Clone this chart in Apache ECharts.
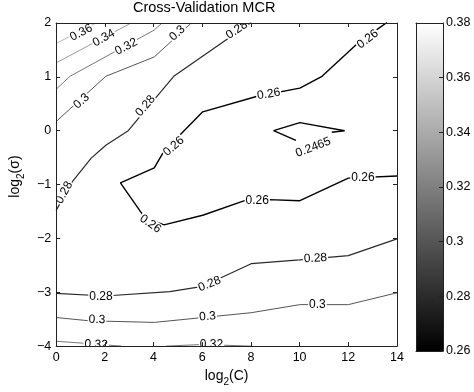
<!DOCTYPE html>
<html>
<head>
<meta charset="utf-8">
<script src="https://cdn.jsdelivr.net/npm/echarts@6/dist/echarts.min.js"></script>
<style>
html, body { margin: 0; padding: 0; background: #fff; }
#chart { width: 474px; height: 392px; }
</style>
</head>
<body>
<div id="chart"></div>
<script>
// contour lines, points are [log2(C), log2(sigma)]
var c036 = [[0, 1.62], [1.64, 2]];
var c034 = [[0, 1.26], [3.08, 2]];
var c032a = [[0, 0.77], [0.57, 1.01], [4.03, 1.87], [4.35, 2]];
var c030a = [[0, 0.17], [2.04, 1.01], [4.03, 1.37], [5.55, 2]];
var c028a = [[0, -1.48], [0.69, -0.93], [1.44, -0.51], [2.04, -0.27], [2.96, 0], [4.83, 1.01], [8.01, 2.01]];
var c026 = [[14, -0.84], [12, -0.88], [10.01, -1.3], [8.73, -1.28], [7.74, -1.3], [6.02, -1.57], [4.43, -1.75],
    [3.63, -1.61], [2.64, -0.97], [4.03, -0.69], [4.43, -0.38], [6.02, 0.35], [8.26, 0.64], [10.01, 0.79],
    [10.92, 1.01], [12.4, 1.63], [13.59, 2.01]];
var c02465a = [[11.32, -0.03], [11.85, 0], [10.01, 0.15], [8.93, 0], [9.85, -0.18]];
var c028b = [[0, -3.02], [2, -3.07], [4.67, -2.99], [6.02, -2.89], [8.01, -2.47], [10, -2.4], [12, -2.32], [14, -2.01]];
var c030b = [[0, -3.47], [1.36, -3.53], [4.03, -3.56], [6.02, -3.47], [8.01, -3.38], [10.01, -3.23], [12, -3.23], [14, -3.01]];
var c032b = [[0, -3.91], [1.24, -3.95], [2.68, -4]];
var c032c = [[4.5, -4], [6, -3.97], [8, -4]];

// inline contour labels [x, y, text] and their angles (degrees)
var labels = [
    [1.03, 1.82, '0.36'], [1.96, 1.72, '0.34'], [2.88, 1.56, '0.32'],
    [1.04, 0.55, '0.3'], [4.98, 1.81, '0.3'],
    [3.67, 0.46, '0.28'], [7.42, 1.87, '0.28'], [0.33, -1.15, '0.28'],
    [4.83, -0.29, '0.26'], [8.73, 0.68, '0.26'], [12.8, 1.7, '0.26'],
    [3.87, -1.73, '0.26'], [8.26, -1.3, '0.26'], [12.6, -0.88, '0.26'],
    [10.56, -0.31, '0.2465'],
    [1.84, -3.09, '0.28'], [6.3, -2.85, '0.28'], [10.65, -2.37, '0.28'],
    [1.68, -3.51, '0.3'], [6.22, -3.45, '0.3'], [10.73, -3.24, '0.3'],
    [1.64, -3.97, '0.32'], [6.38, -3.97, '0.32']
];
var labelAngles = [27, 29, 27, 42, 43, 49, 34, 61, 42, 10, 38, -35, 0, 0, 21, 0, 22, 3, -2, 5, 0, -3, 0];

var xRange = [0, 14];
var yRange = [-4, 2];
// colorbar ticks, in hundredths so the steps stay exact
var cbarTicks = [26, 28, 30, 32, 34, 36, 38];

var font = "'Liberation Sans', Arial, Helvetica, sans-serif";

var myChart = echarts.init(document.getElementById('chart'));

function contour(data, color, width) {
    return {
        type: 'line',
        xAxisIndex: 0,
        yAxisIndex: 0,
        data: data,
        showSymbol: false,
        symbol: 'none',
        clip: true,
        silent: true,
        z: 2,
        lineStyle: { color: color, width: width }
    };
}

function frameAxis(pos, gridIndex, showLabel, extra) {
    var a = {
        gridIndex: gridIndex,
        type: 'value',
        position: pos,
        z: 10,
        axisLine: { show: true, onZero: false, lineStyle: { color: '#222', width: 1 } },
        axisTick: { show: true, inside: true, length: 4, lineStyle: { color: '#222' } },
        axisLabel: { show: showLabel, color: '#000', fontSize: 12.5, fontFamily: font, margin: 5 },
        splitLine: { show: false }
    };
    for (var k in extra) a[k] = extra[k];
    return a;
}

var sub = {
    a: { fontSize: 14, fontFamily: font, color: '#000', lineHeight: 22 },
    s: { fontSize: 10, fontFamily: font, color: '#000', lineHeight: 10, verticalAlign: 'bottom' }
};

var cbarMin = cbarTicks[0];
var cbarMax = cbarTicks[cbarTicks.length - 1];

var option = {
    animation: false,
    backgroundColor: '#fff',
    title: {
        text: 'Cross-Validation MCR',
        left: 133,
        top: 0,
        padding: 0,
        textStyle: { fontSize: 14.5, fontWeight: 'normal', color: '#000', fontFamily: font }
    },
    grid: [
        { left: 46, top: 23, width: 351, height: 328 },
        { left: 416, top: 23, width: 27, height: 328 }
    ],
    xAxis: [
        frameAxis('bottom', 0, true, {
            min: xRange[0], max: xRange[1], interval: 2,
            name: '{a|log}{s|2}{a|(C)}', nameLocation: 'middle', nameGap: 16,
            nameTextStyle: { rich: sub }
        }),
        frameAxis('top', 0, false, { min: xRange[0], max: xRange[1], interval: 2 }),
        frameAxis('bottom', 1, false, { min: 0, max: 1, axisTick: { show: false } }),
        frameAxis('top', 1, false, { min: 0, max: 1, axisTick: { show: false } })
    ],
    yAxis: [
        frameAxis('left', 0, true, {
            min: yRange[0], max: yRange[1], interval: 1,
            name: '{a|log}{s|2}{a|(σ)}', nameLocation: 'middle', nameGap: 24,
            nameTextStyle: { rich: sub, padding: [0, 0, 0, 16] },
            axisLabel: {
                color: '#000', fontSize: 12.5, fontFamily: font, margin: 5,
                formatter: function (v) { return String(v).replace('-', '\u2212'); }
            }
        }),
        frameAxis('right', 0, false, { min: yRange[0], max: yRange[1], interval: 1 }),
        frameAxis('left', 1, false, { min: cbarMin, max: cbarMax, axisTick: { show: false } }),
        frameAxis('right', 1, false, { min: cbarMin, max: cbarMax, interval: 2 })
    ],
    series: [
        contour(c036, '#b8b8b8', 1),
        contour(c034, '#999', 1),
        contour(c032a, '#777', 1),
        contour(c030a, '#555', 1),
        contour(c028a, '#2a2a2a', 1.2),
        contour(c026, '#000', 1.4),
        contour(c02465a, '#000', 1.4),
        contour(c028b, '#2a2a2a', 1.2),
        contour(c030b, '#555', 1),
        contour(c032b, '#777', 1),
        contour(c032c, '#777', 1),
        {
            // inline labels
            type: 'custom',
            xAxisIndex: 0,
            yAxisIndex: 0,
            clip: true,
            silent: true,
            z: 5,
            data: labels.map(function (d, i) { return [d[0], d[1], d[2], labelAngles[i]]; }),
            renderItem: function (params, api) {
                var p = api.coord([api.value(0), api.value(1)]);
                return {
                    type: 'text',
                    x: p[0],
                    y: p[1],
                    rotation: api.value(3) * Math.PI / 180,
                    style: {
                        text: labels[params.dataIndex][2],
                        fill: '#000',
                        font: '12px ' + font,
                        align: 'center',
                        verticalAlign: 'middle',
                        backgroundColor: '#fff',
                        padding: [0, 1]
                    }
                };
            }
        },
        {
            // colorbar
            type: 'custom',
            xAxisIndex: 2,
            yAxisIndex: 2,
            silent: true,
            data: [[0, cbarMin, 1, cbarMax]],
            renderItem: function (params, api) {
                var p0 = api.coord([api.value(0), api.value(3)]);
                var p1 = api.coord([api.value(2), api.value(1)]);
                return {
                    type: 'rect',
                    shape: { x: p0[0], y: p0[1], width: p1[0] - p0[0], height: p1[1] - p0[1] },
                    style: {
                        fill: {
                            type: 'linear', x: 0, y: 0, x2: 0, y2: 1,
                            colorStops: [{ offset: 0, color: '#fff' }, { offset: 1, color: '#000' }]
                        }
                    }
                };
            }
        }
    ]
};

myChart.setOption(option);

// colorbar tick labels, placed with the colorbar axes
var right = myChart.convertToPixel({ xAxisIndex: 2 }, 1);
myChart.setOption({
    graphic: cbarTicks.map(function (v) {
        return {
            type: 'text',
            x: right + 3,
            y: myChart.convertToPixel({ yAxisIndex: 2 }, v),
            z: 100,
            silent: true,
            style: {
                text: (v / 100).toString(),
                fill: '#000',
                font: '12.5px ' + font,
                align: 'left',
                verticalAlign: 'middle'
            }
        };
    })
});
</script>
</body>
</html>
